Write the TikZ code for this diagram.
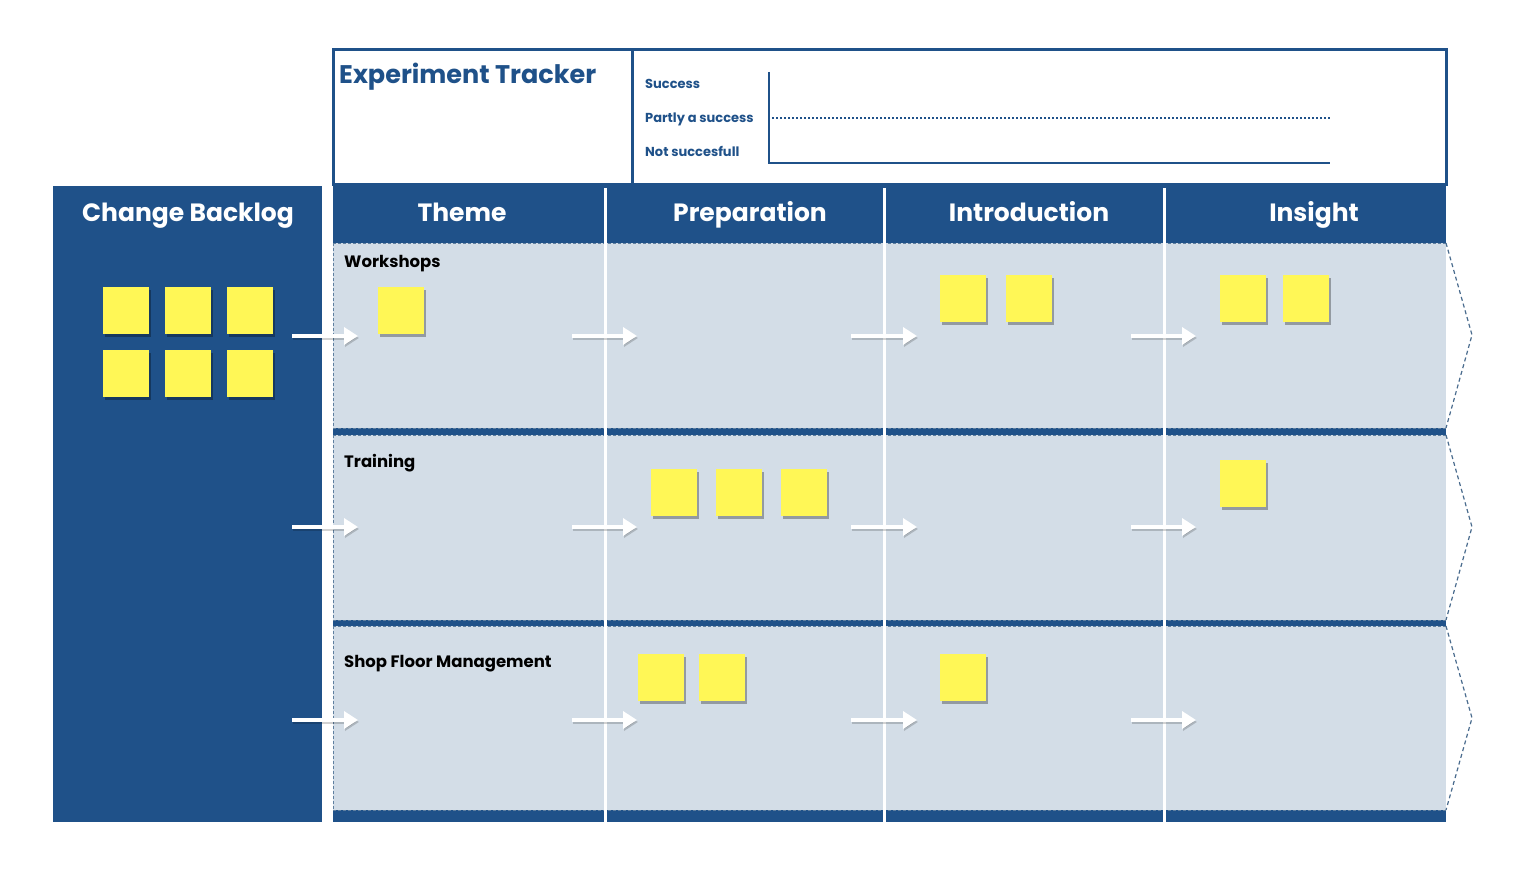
\documentclass[tikz,border=0pt]{standalone}
\usepackage{fontspec}
\setmainfont{Poppins}
\usetikzlibrary{arrows.meta,shadows}
\definecolor{navy}{HTML}{1F5189}
\definecolor{lane}{HTML}{D3DDE7}
\definecolor{sticky}{HTML}{FFF756}
\definecolor{dashc}{HTML}{5F7F9F}
\definecolor{chev}{HTML}{4A6C8E}
\tikzset{
  note/.style={fill=sticky, minimum width=46pt, minimum height=47pt, inner sep=0pt, anchor=north west,
    drop shadow={shadow xshift=1.5pt, shadow yshift=-2.5pt, opacity=0.3, fill=black}},
  flow/.style={draw=white, line width=3.5pt, -{Triangle[length=14pt,width=17pt]}},
  flowshadow/.style={draw=black, opacity=0.18, line width=3.5pt, -{Triangle[length=14pt,width=17pt]}},
  headtxt/.style={text=white, font=\bfseries\fontsize{25}{30}\selectfont, inner sep=0pt, anchor=base},
  rowtxt/.style={text=black, font=\bfseries\fontsize{16.5}{19}\selectfont, anchor=base west, inner sep=0pt},
  trktxt/.style={text=navy, font=\bfseries\fontsize{13}{15}\selectfont, anchor=base west, inner sep=0pt},
  lanedash/.style={draw=dashc, line width=0.8pt, dash pattern=on 3pt off 2pt},
  chevdash/.style={draw=chev, line width=1.2pt, dash pattern=on 4pt off 3pt},
}
\begin{document}
\begin{tikzpicture}[x=1pt,y=-1pt]
\useasboundingbox (0,0) rectangle (1536,883);
\fill[white] (0,0) rectangle (1536,883);

% tracker
\draw[navy, line width=3pt] (333,50) rectangle (1446,184);
\draw[navy, line width=3pt] (632,50) -- (632,184);
\node[text=navy, font=\bfseries\fontsize{25.5}{30}\selectfont, anchor=base west, inner sep=0pt] (title) at (339,84) {Experiment Tracker};
\node[trktxt] (ls) at (645,88.5) {Success};
\node[trktxt] (lp) at (645,122.5) {Partly a success};
\node[trktxt] (ln) at (645,156) {Not succesfull};
\coordinate (axtop) at (769,72);
\coordinate (axo) at (769,163);
\coordinate (axr) at (1330,163);
\coordinate (dl) at (772,118);
\coordinate (dr) at (1330,118);
\draw[navy, line width=1.6pt] (axtop) -- (axo) -- (axr);
\draw[navy, line width=1.6pt, dash pattern=on 2pt off 2pt] (dl) -- (dr);

% backlog panel
\fill[navy] (53,186) rectangle (322,822);
\node[headtxt] (cb) at (188,221) {Change Backlog};

% header band
\fill[navy] (333,186) rectangle (1446,243);
\node[headtxt] (hth) at (462,221) {Theme};
\node[headtxt] (hpr) at (750,221) {Preparation};
\node[headtxt] (hin) at (1029,221) {Introduction};
\node[headtxt] (his) at (1314,221) {Insight};

% lanes
\fill[lane] (333,243) rectangle (1446,428);
\fill[lane] (333,435) rectangle (1446,620);
\fill[lane] (333,626) rectangle (1446,810);
\fill[navy] (333,428) rectangle (1446,435);
\fill[navy] (333,620) rectangle (1446,626);
\fill[navy] (333,810) rectangle (1446,822);
\foreach \a/\b in {243/428,435/620,626/810}{
  \draw[lanedash] (333,\a) -- (1446,\a);
  \draw[lanedash] (333,\b) -- (1446,\b);
  \draw[lanedash] (333,\a) -- (333,\b);
}
% separators
\foreach \x in {605.5,884.5,1164}{
  \draw[white, line width=3pt] (\x,188) -- (\x,822);
}
% chevrons
\draw[chevdash] (1446,243) -- (1472,335) -- (1446,428);
\draw[chevdash] (1446,435) -- (1472,527) -- (1446,620);
\draw[chevdash] (1446,626) -- (1472,718) -- (1446,810);

% row labels
\node[rowtxt] (r1) at (344,267) {Workshops};
\node[rowtxt] (r2) at (344,467) {Training};
\node[rowtxt] (r3) at (344,667) {Shop Floor Management};

% arrows
\foreach \i/\y in {1/336,2/527,3/720}{
  \foreach \j/\xs/\xe in {1/292/358,2/572/637,3/851/917,4/1131/1196}{
    \coordinate (s\i\j) at (\xs,\y);
    \coordinate (e\i\j) at (\xe,\y);
    \draw[flowshadow] ([shift={(1pt,-2pt)}]s\i\j) -- ([shift={(1pt,-2pt)}]e\i\j);
    \draw[flow] (s\i\j) -- (e\i\j);
  }
}

% sticky notes
\node[note] (b1) at (103,287) {};
\node[note] (b2) at (165,287) {};
\node[note] (b3) at (227,287) {};
\node[note] (b4) at (103,350) {};
\node[note] (b5) at (165,350) {};
\node[note] (b6) at (227,350) {};
\node[note] (n11) at (378,287) {};
\node[note] (n13a) at (940,275) {};
\node[note] (n13b) at (1006,275) {};
\node[note] (n14a) at (1220,275) {};
\node[note] (n14b) at (1283,275) {};
\node[note] (n22a) at (651,469) {};
\node[note] (n22b) at (716,469) {};
\node[note] (n22c) at (781,469) {};
\node[note] (n24) at (1220,460) {};
\node[note] (n32a) at (638,654) {};
\node[note] (n32b) at (699,654) {};
\node[note] (n33) at (940,654) {};
\end{tikzpicture}
\end{document}
